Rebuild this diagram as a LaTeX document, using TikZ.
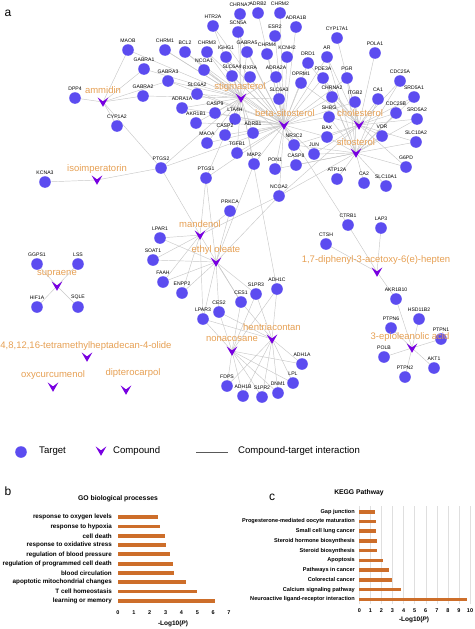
\documentclass[tikz,border=0pt]{standalone}
\usepackage{fontspec}
\setmainfont{Liberation Sans}
\usetikzlibrary{backgrounds}
\definecolor{tcol}{RGB}{92,76,240}
\definecolor{ccol}{RGB}{120,0,225}
\definecolor{lcol}{RGB}{230,160,84}
\definecolor{ecol}{RGB}{200,200,200}
\definecolor{bcol}{RGB}{205,110,42}
\begin{document}
\begin{tikzpicture}[x=1pt,y=-1pt,label distance=1.6pt,
  tg/.style={circle,fill=tcol,minimum size=11.6pt,inner sep=0pt},
  tlbl/.style={font=\fontsize{5.1}{6}\selectfont,inner sep=0pt},
  cmpd/.style={rectangle,minimum width=11pt,minimum height=10pt,inner sep=0pt,
    path picture={\fill[ccol,shift={(path picture bounding box.center)}] (-5.4,-4.6) -- (0,-0.6) -- (5.4,-4.6) -- (0,4.8) -- cycle;}},
  clbl/.style={font=\fontsize{9.5}{11}\selectfont,text=lcol,inner sep=0pt},
  edge/.style={draw=ecol,line width=0.45pt},
  panel/.style={font=\fontsize{12}{14}\selectfont,inner sep=0pt},
  leg/.style={font=\fontsize{9.6}{11}\selectfont,inner sep=0pt,anchor=west},
  blbl/.style={font=\bfseries\fontsize{6.3}{7}\selectfont,inner sep=0pt,anchor=east},
  clbl2/.style={font=\bfseries\fontsize{5.6}{7}\selectfont,inner sep=0pt,anchor=east},
  tick/.style={font=\bfseries\fontsize{5.5}{6}\selectfont,inner sep=0pt},
  axt/.style={font=\bfseries\fontsize{6.5}{7}\selectfont,inner sep=0pt},
  ttl/.style={font=\bfseries\fontsize{6.8}{8}\selectfont,inner sep=0pt},
  bar/.style={fill=bcol},
  grid/.style={draw=gray!25,line width=0.4pt}]
\useasboundingbox (0,0) rectangle (474,629);

% ---------- targets ----------
\foreach \n/\x/\y in {MAOB/128/50,GABRA1/144/69,DPP4/75/98,GABRA2/143/96,CYP1A2/117/126,
  CHRNA7/240/14,ADRB2/258/13,CHRM2/280/13,HTR2A/213/26,SCN5A/238/32,ADRA1B/296/27,ESR2/275/36,
  CHRM1/165/50,BCL2/185/52,CHRM3/207/52,IGHG1/226/57,GABRA5/247/52,CHRM4/267/54,KCNH2/287/57,
  DRD1/308/63,NCOA1/204/70,SLC6A4/232/76,RXRA/250/77,ADRA2A/276/77,OPRM1/301/83,GABRA3/168/81,
  SLC6A2/197/94,SLC6A3/279/99,ADRA1A/182/108,CASP9/215/113,AKR1B1/196/123,LTA4H/235/119,
  CASP2/225/135,ADRB1/253/133,MAOA/207/143,TGFB1/237/153,NR3C2/294/145,JUN/314/154,MAP2/254/164,
  PON1/275/169,CASP8/296/165,PTGS2/161/168,PTGS1/206/178,NCOA2/279/196,PRKCA/230/211,LPAR1/160/238,
  KCNA3/45/182,CYP17A1/337/38,POLA1/375/53,AR/327/57,PDE3A/323/78,PGR/347/78,CDC25A/400/81,
  CHRNA2/332/97,ITGB2/355/102,CA1/378/99,SRD5A1/414/97,CDC25B/396/113,SRD5A2/417/119,SHBG/329/117,
  BAX/327/137,VDR/382/136,SLC10A2/416/142,G6PD/406/167,ATP12A/337/179,CA2/364/183,SLC10A1/386/186,
  CTRB1/348/225,LAP3/381/228,CTSH/326/244,SOAT1/153/260,FAAH/163/282,ENPP2/182/293,CES1/241/302,
  S1PR3/256/294,ADH1C/277/289,CES2/219/312,LPAR3/203/319,ADH1A/302/364,LPL/293/383,FDPS/227/386,
  ADH1B/243/396,S1PR2/262/397,DNM1/278/393,AKR1B10/396/299,HSD11B2/419/319,PTPN6/391/328,
  PTPN1/441/339,POLB/384/357,AKT1/434/368,PTPN2/405/377,GGPS1/37/264,LSS/78/264,HIF1A/37/307,SQLE/78/307}
  {\node[tg,label={[tlbl]above:\n}] (\n) at (\x,\y) {};}

% ---------- compounds ----------
\node[cmpd] (ammidin) at (103,102) {};
\node[cmpd] (isoimp) at (97,180) {};
\node[cmpd] (stig) at (241,98) {};
\node[cmpd] (bsito) at (284,125) {};
\node[cmpd] (chol) at (359,125) {};
\node[cmpd] (sito) at (356,153) {};
\node[cmpd] (mand) at (200,235) {};
\node[cmpd] (ethyl) at (216,262) {};
\node[cmpd] (supra) at (57,286) {};
\node[cmpd] (diphen) at (377,272) {};
\node[cmpd] (epiol) at (412,348) {};
\node[cmpd] (hentri) at (272,339) {};
\node[cmpd] (nonac) at (232,351) {};
\node[cmpd] (tetra) at (87,357) {};
\node[cmpd] (oxyc) at (53,387) {};
\node[cmpd] (dipt) at (126,390) {};

\node[clbl] (Lammidin) at (103,90) {ammidin};
\node[clbl] (Lisoimp) at (97,169) {isoimperatorin};
\node[clbl] (Lstig) at (240,87) {stigmasterol};
\node[clbl] (Lbsito) at (285,113) {beta-sitosterol};
\node[clbl] (Lchol) at (360,113) {cholesterol};
\node[clbl] (Lsito) at (356,142) {sitosterol};
\node[clbl] (Lmand) at (200,224) {mandenol};
\node[clbl] (Lethyl) at (216,250) {ethyl oleate};
\node[clbl] (Lsupra) at (57,274) {supraene};
\node[clbl] (Ldiphen) at (376,260) {1,7-diphenyl-3-acetoxy-6(e)-hepten};
\node[clbl] (Lepiol) at (410,337) {3-epioleanolic acid};
\node[clbl] (Lhentri) at (272,327) {hentriacontan};
\node[clbl] (Lnonac) at (232,339) {nonacosane};
\node[clbl] (Ltetra) at (86,346) {4,8,12,16-tetramethylheptadecan-4-olide};
\node[clbl] (Loxyc) at (53,375) {oxycurcumenol};
\node[clbl] (Ldipt) at (133,373) {dipterocarpol};

% ---------- edges ----------
\begin{pgfonlayer}{background}
\foreach \t in {DPP4,MAOB,GABRA1,GABRA2,GABRA3,CYP1A2,PTGS2} \draw[edge] (ammidin.center) -- (\t.center);
\foreach \t in {KCNA3,PTGS2} \draw[edge] (isoimp.center) -- (\t.center);
\foreach \t in {CHRNA7,HTR2A,SCN5A,CHRM1,BCL2,CHRM3,IGHG1,GABRA5,NCOA1,SLC6A4,RXRA,GABRA3,GABRA1,GABRA2,MAOB,SLC6A2,ADRA1A,AKR1B1,CASP9,LTA4H,CASP2,MAOA,ADRB1,TGFB1,PTGS2,PTGS1,MAP2,ADRA2A,SLC6A3,NR3C2,ADH1C}
  \draw[edge] (stig.center) -- (\t.center);
\foreach \t in {ADRB2,CHRM2,ADRA1B,ESR2,CHRM4,KCNH2,DRD1,OPRM1,ADRA2A,SLC6A3,RXRA,SLC6A4,IGHG1,GABRA5,NCOA1,CHRM1,CHRM3,BCL2,SCN5A,HTR2A,ADRA1A,CASP9,LTA4H,ADRB1,CASP2,MAOA,TGFB1,PTGS1,PTGS2,MAP2,PON1,CASP8,JUN,NR3C2,BAX,SHBG,PDE3A,PGR,AR,CHRNA2,ITGB2,NCOA2,CTRB1,AKR1B1,SLC6A2,GABRA3}
  \draw[edge] (bsito.center) -- (\t.center);
\foreach \t in {CYP17A1,POLA1,AR,PDE3A,PGR,CHRNA2,ITGB2,CA1,CDC25A,SRD5A1,CDC25B,SRD5A2,SHBG,BAX,VDR,SLC10A2,G6PD,NR3C2,JUN,DRD1,NCOA2,OPRM1}
  \draw[edge] (chol.center) -- (\t.center);
\foreach \t in {SHBG,BAX,VDR,SLC10A2,G6PD,SLC10A1,CA2,ATP12A,JUN,CASP8,NR3C2,PON1,CDC25B,CA1,ITGB2,NCOA2,PGR,AR,CDC25A,SRD5A1,SRD5A2,PDE3A,CHRNA2}
  \draw[edge] (sito.center) -- (\t.center);
\foreach \t in {LPAR1,PTGS2,PTGS1,PRKCA,NCOA2,SOAT1,FAAH,ENPP2,LPAR3,CES1}
  \draw[edge] (mand.center) -- (\t.center);
\foreach \t in {LPAR1,SOAT1,FAAH,ENPP2,LPAR3,CES2,CES1,S1PR3,PRKCA,PTGS1,NCOA2,MAP2}
  \draw[edge] (ethyl.center) -- (\t.center);
\foreach \t in {LPAR3,CES2,CES1,S1PR3,ADH1C,ADH1A,LPL,DNM1,S1PR2,ADH1B,FDPS}
  \draw[edge] (hentri.center) -- (\t.center);
\foreach \t in {LPAR3,CES2,CES1,S1PR3,ADH1C,ADH1A,LPL,DNM1,S1PR2,ADH1B,FDPS}
  \draw[edge] (nonac.center) -- (\t.center);
\foreach \t in {CTSH,CTRB1,LAP3,AKR1B10} \draw[edge] (diphen.center) -- (\t.center);
\foreach \t in {AKR1B10,HSD11B2,PTPN6,PTPN1,POLB,AKT1,PTPN2} \draw[edge] (epiol.center) -- (\t.center);
\foreach \t in {GGPS1,LSS,HIF1A,SQLE} \draw[edge] (supra.center) -- (\t.center);
\end{pgfonlayer}

% ---------- panel letters ----------
\node[panel] (pa) at (8,13) {a};
\node[panel] (pb) at (8,491) {b};
\node[panel] (pc) at (272,497) {c};

% ---------- legend ----------
\node[tg] (legT) at (21,452) {};
\node[leg] (legTt) at (39,451) {Target};
\node[cmpd] (legC) at (101,451) {};
\node[leg] (legCt) at (113,451) {Compound};
\coordinate (legL1) at (196,452);
\coordinate (legL2) at (228,452);
\draw[draw=black!65,line width=0.8pt] (legL1) -- (legL2);
\node[leg] (legLt) at (238,451) {Compound-target interaction};

% ---------- panel b ----------
\node[ttl] (gbt) at (118,499) {GO biological processes};
\foreach \i/\v/\t in {0/2.52/response to oxygen levels,1/2.63/response to hypoxia,2/2.94/cell death,
  3/3.05/response to oxidative stress,4/3.3/regulation of blood pressure,5/3.45/regulation of programmed cell death,
  6/3.55/blood circulation,7/4.27/apoptotic mitochondrial changes,8/4.97/T cell homeostasis,9/6.1/learning or memory}
{
  \fill[bar] (118,517.3+\i*9.27-1.9) rectangle (118+\v*15.86,517.3+\i*9.27+1.9);
  \node[blbl] (gb\i) at (112,517.3+\i*9.27) {\t};
}
\foreach \k in {0,...,7} \node[tick] (gt\k) at (118+\k*15.86,613) {\k};
\node[axt] (gax) at (173,624) {-Log10(\textit{P})};

% ---------- panel c ----------
\node[ttl] (kgt) at (359,493) {KEGG Pathway};
\foreach \k in {0,...,10} \draw[grid] (359.3+\k*11.07,506) -- (359.3+\k*11.07,604);
\foreach \i/\v/\t in {0/1.42/Gap junction,1/1.48/Progesterone-mediated oocyte maturation,2/1.5/Small cell lung cancer,
  3/1.57/Steroid hormone biosynthesis,4/1.63/Steroid biosynthesis,5/2.1/Apoptosis,6/2.68/Pathways in cancer,
  7/2.92/Colorectal cancer,8/3.77/Calcium signaling pathway,9/9.76/Neuroactive ligand-receptor interaction}
{
  \fill[bar] (359.3,511.7+\i*9.74-1.8) rectangle (359.3+\v*11.07,511.7+\i*9.74+1.8);
  \node[clbl2] (kb\i) at (355,511.7+\i*9.74) {\t};
}
\foreach \k in {0,...,10} \node[tick] (kt\k) at (359.3+\k*11.07,611) {\k};
\node[axt] (kax) at (414,620) {-Log10(\textit{P})};
\end{tikzpicture}
\end{document}
